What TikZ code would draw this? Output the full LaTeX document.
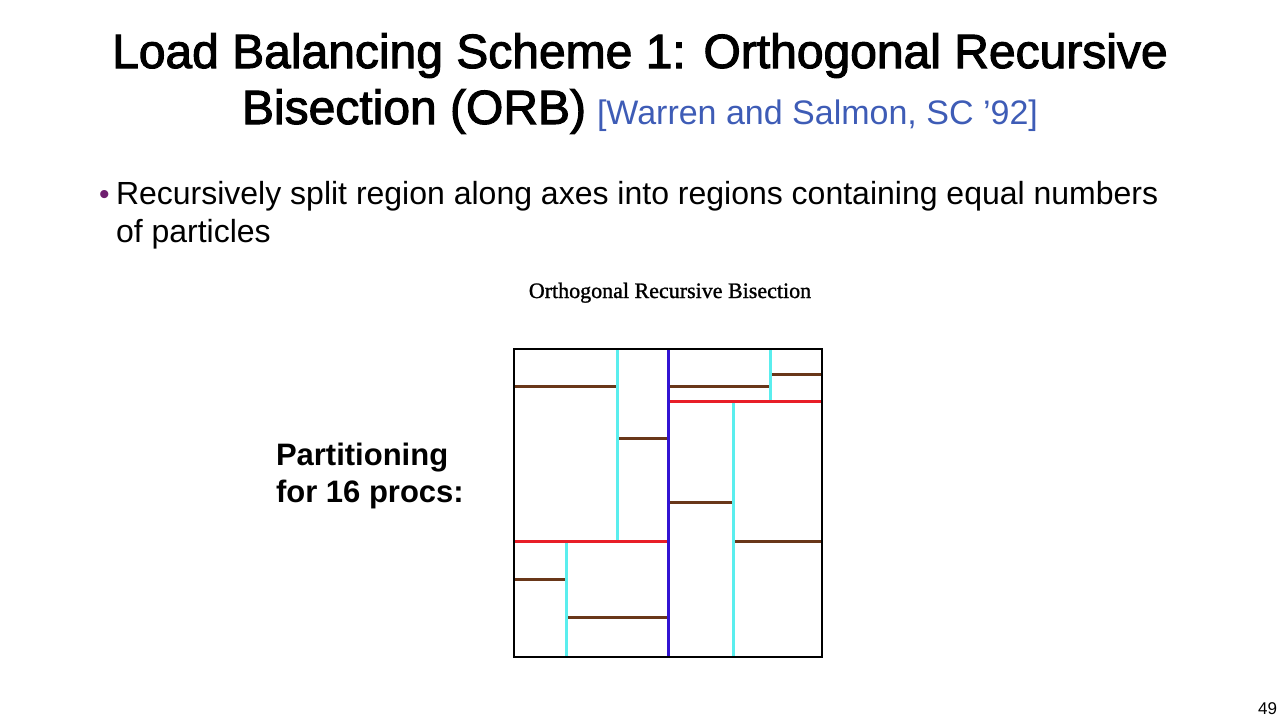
\documentclass[tikz,border=0pt]{standalone}
\usepackage{fontspec}
\setmainfont{Liberation Sans}
\newfontfamily\titlefont[FakeBold=2.2]{Liberation Sans}
\newfontfamily\serifsmall[FakeBold=1.2]{Liberation Serif}
\definecolor{citeblue}{RGB}{62,92,182}
\definecolor{bulletpurple}{RGB}{110,30,110}
\definecolor{orbbrown}{RGB}{105,55,25}
\definecolor{orbcyan}{RGB}{90,238,238}
\definecolor{orbblue}{RGB}{50,20,210}
\definecolor{orbred}{RGB}{232,30,40}
\tikzset{
  txt/.style={inner sep=0pt, outer sep=0pt},
  brownline/.style={draw=orbbrown, line width=3pt},
  cyanline/.style={draw=orbcyan, line width=3pt},
  redline/.style={draw=orbred, line width=3pt},
  blueline/.style={draw=orbblue, line width=3pt},
}
\begin{document}
\begin{tikzpicture}[x=1pt,y=-1pt]
\useasboundingbox (0,0) rectangle (1280,720);
% title
\node[txt, anchor=base] (t1) at (640,68) {\titlefont\fontsize{48}{54}\selectfont Load Balancing Scheme 1: Orthogonal Recursive};
\node[txt, anchor=base west] (t2) at (242,124) {\titlefont\fontsize{48}{54}\selectfont Bisection (ORB)};
\node[txt, anchor=base west] (cite) at (597,124) {\color{citeblue}\fontsize{34}{40}\selectfont [Warren and Salmon, SC ’92]};
% bullet
\node[txt, anchor=base west] (bul) at (99,204) {\color{bulletpurple}\fontsize{30}{36}\selectfont •};
\node[txt, anchor=base west] (b1) at (116,204) {\fontsize{32}{38}\selectfont Recursively split region along axes into regions containing equal numbers};
\node[txt, anchor=base west] (b2) at (116,242) {\fontsize{32}{38}\selectfont of particles};
% label
\node[txt, anchor=base west] (p1) at (276,465) {\bfseries\fontsize{31}{36}\selectfont Partitioning};
\node[txt, anchor=base west] (p2) at (276,502) {\bfseries\fontsize{31}{36}\selectfont for 16 procs:};
% diagram caption
\node[txt, anchor=base] (cap) at (670,298) {\serifsmall\fontsize{22}{25}\selectfont Orthogonal Recursive Bisection};
% page number
\node[txt, anchor=base east] (pg) at (1277,714) {\fontsize{17}{20}\selectfont 49};
% ORB partition
\draw[brownline] (514,386.7) -- (617,386.7);
\draw[brownline] (617,438.7) -- (668,438.7);
\draw[brownline] (668,386.7) -- (771,386.7);
\draw[brownline] (771,374) -- (822,374);
\draw[brownline] (668,502.7) -- (733,502.7);
\draw[brownline] (733,541.7) -- (822,541.7);
\draw[brownline] (514,579.7) -- (567,579.7);
\draw[brownline] (567,617.7) -- (668,617.7);
\draw[cyanline] (617.3,349) -- (617.3,541.7);
\draw[cyanline] (566.7,541.7) -- (566.7,657);
\draw[cyanline] (770.7,349) -- (770.7,401);
\draw[cyanline] (733,401) -- (733,657);
\draw[redline] (514,541.7) -- (668,541.7);
\draw[redline] (668,401) -- (822,401);
\draw[blueline] (668.3,349) -- (668.3,657);
\draw[black, line width=2.8pt] (514,349) rectangle (822,657);
\end{tikzpicture}
\end{document}
